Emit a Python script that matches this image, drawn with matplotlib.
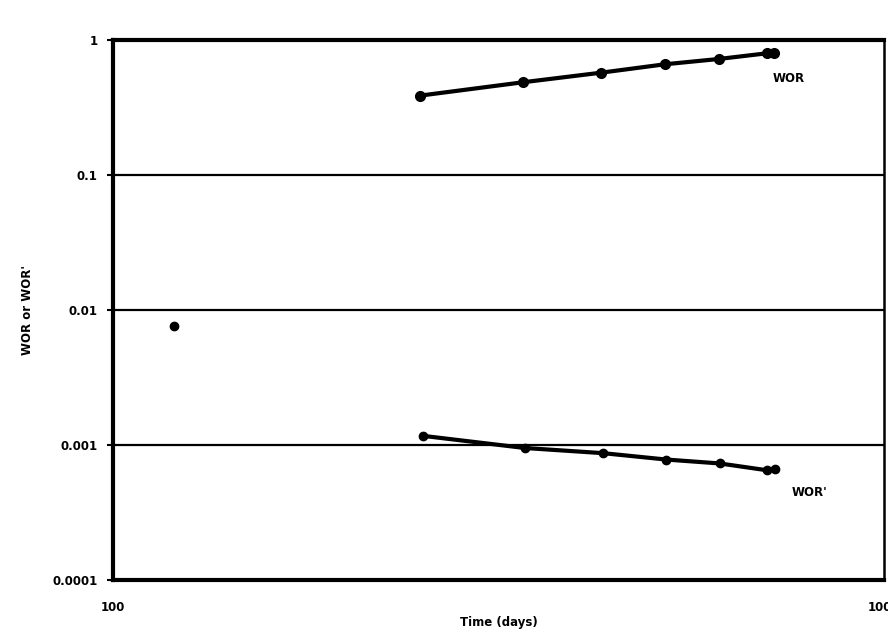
import numpy as np
import matplotlib.pyplot as plt
from matplotlib.ticker import FixedLocator, NullLocator

plt.rcParams['font.family'] = ['DejaVu Sans']
plt.rcParams['font.weight'] = 'bold'

# data
time_wor = [250, 340, 430, 520, 610, 705, 720]
wor = [0.387, 0.486, 0.573, 0.661, 0.723, 0.797, 0.805]

time_worp = [252, 342, 432, 522, 612, 705, 722]
wor_prime = [0.00117, 0.00095, 0.00087, 0.00078, 0.00073, 0.00065, 0.00066]

# lone early point
time_early = [120]
wor_early = [0.0076]

yticks = [0.0001, 0.001, 0.01, 0.1, 1]
ytick_labels = ['0.0001', '0.001', '0.01', '0.1', '1']
xticks = [100, 1000]
xtick_labels = ['100', '1000']

fig = plt.figure(figsize=(8.88, 6.44), dpi=100)
ax = fig.add_axes([0.1273, 0.0994, 0.8682, 0.8385])

ax.set_xscale('log')
ax.set_yscale('log')
ax.set_xlim(100, 1000)
ax.set_ylim(0.0001, 1)

# horizontal grid
for yv in yticks[1:-1]:
    ax.axhline(yv, color='k', lw=1.6, zorder=1)

ax.plot(time_wor, wor, 'k-', lw=3, marker='o', ms=7, zorder=3)
ax.plot(time_worp, wor_prime, 'k-', lw=3, marker='o', ms=6, zorder=3)
ax.plot(time_early, wor_early, 'ko', ms=6, zorder=3)

# series labels, placed in figure pixels (from top-left)
ax.text(773, 644 - 78, 'WOR', transform=None, fontsize=8.5,
        fontweight='bold', va='center', ha='left')
ax.text(792, 644 - 492, "WOR'", transform=None, fontsize=8.5,
        fontweight='bold', va='center', ha='left')

ax.yaxis.set_major_locator(FixedLocator(yticks))
ax.yaxis.set_minor_locator(NullLocator())
ax.set_yticklabels(ytick_labels)
ax.xaxis.set_major_locator(FixedLocator(xticks))
ax.xaxis.set_minor_locator(NullLocator())
ax.set_xticklabels(xtick_labels)

ax.tick_params(axis='y', direction='out', length=4, width=1.5, labelsize=8.5, pad=7)
ax.tick_params(axis='x', length=0, labelsize=8.5, pad=15)

for side in ['left', 'bottom', 'top']:
    ax.spines[side].set_linewidth(3)
ax.spines['right'].set_linewidth(1.8)

ax.set_xlabel('Time (days)', fontsize=8.5, fontweight='bold')
ax.xaxis.set_label_coords(0.5, -0.066)
ax.set_ylabel("WOR or WOR'", fontsize=8.5, fontweight='bold')
ax.yaxis.set_label_coords(-0.103, 0.5)

fig.savefig('out.png', dpi=100)
